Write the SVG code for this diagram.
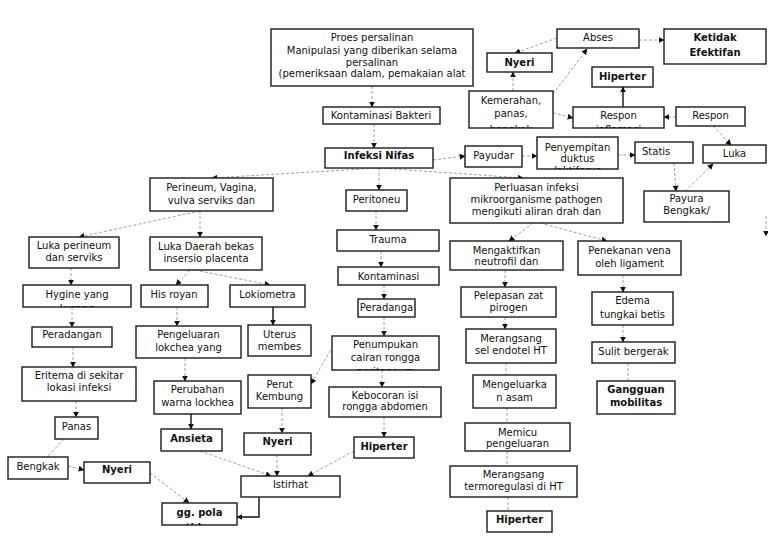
<svg xmlns="http://www.w3.org/2000/svg" width="768" height="543" viewBox="0 0 768 543">
<style>
.b{fill:#fff;stroke:#1a1a1a;stroke-width:1.4}
text{font-family:"DejaVu Sans","Liberation Sans",sans-serif;font-size:10px;fill:#111;text-anchor:middle}
.bd{font-weight:bold}
.d{fill:none;stroke:#a0a0a0;stroke-width:1;stroke-dasharray:3 2}
.d.a{marker-end:url(#ah)}
.s{fill:none;stroke:#111;stroke-width:1.4;marker-end:url(#ah)}
</style>
<defs>
<marker id="ah" viewBox="0 0 10 10" refX="9" refY="5" markerWidth="6" markerHeight="6" markerUnits="userSpaceOnUse" orient="auto"><path d="M0,0L10,5L0,10z" fill="#111"/></marker>
<clipPath id="c-hyg"><rect x="23" y="285" width="108" height="22"/></clipPath>
<clipPath id="c-gg"><rect x="162" y="503" width="75" height="22"/></clipPath>
<clipPath id="c-pen"><rect x="332" y="336" width="107" height="34"/></clipPath>
<clipPath id="c-kem"><rect x="469" y="91" width="84" height="37"/></clipPath>
<clipPath id="c-res"><rect x="573" y="107" width="91" height="21"/></clipPath>
<clipPath id="c-pny"><rect x="537" y="137" width="81" height="32"/></clipPath>
</defs>
<rect width="768" height="543" fill="#fff"/>
<g id="connectors">
<line class="d a" x1="372" y1="86" x2="372" y2="107"/>
<line class="d a" x1="374" y1="124" x2="374" y2="148"/>
<line class="d a" x1="433" y1="160" x2="465" y2="156"/>
<line class="d a" x1="379" y1="168" x2="212" y2="178"/>
<line class="d a" x1="379" y1="168" x2="379" y2="190"/>
<line class="d a" x1="379" y1="168" x2="523" y2="178"/>
<line class="d a" x1="522" y1="156" x2="537" y2="156"/>
<line class="d a" x1="618" y1="155" x2="635" y2="155"/>
<line class="d a" x1="674" y1="163" x2="676" y2="191"/>
<line class="d a" x1="685" y1="191" x2="713" y2="164"/>
<line class="d a" x1="676" y1="117" x2="664" y2="117"/>
<line class="d a" x1="713" y1="126" x2="731" y2="145"/>
<line class="s" x1="623" y1="107" x2="623" y2="87"/>
<line class="d a" x1="553" y1="113" x2="573" y2="118"/>
<line class="d a" x1="553" y1="94" x2="587" y2="49"/>
<line class="d a" x1="513" y1="91" x2="513" y2="72"/>
<line class="d a" x1="557" y1="38" x2="515" y2="53"/>
<line class="d a" x1="639" y1="40" x2="664" y2="40"/>
<line class="d a" x1="200" y1="211" x2="79" y2="237"/>
<line class="d a" x1="200" y1="211" x2="200" y2="237"/>
<line class="d a" x1="71" y1="268" x2="71" y2="285"/>
<line class="d a" x1="190" y1="270" x2="176" y2="285"/>
<line class="d a" x1="195" y1="270" x2="270" y2="285"/>
<line class="d a" x1="72" y1="307" x2="72" y2="327"/>
<line class="d a" x1="177" y1="307" x2="177" y2="326"/>
<line class="s" x1="273" y1="307" x2="273" y2="325"/>
<line class="d a" x1="73" y1="347" x2="73" y2="367"/>
<line class="d a" x1="185" y1="358" x2="185" y2="381"/>
<line class="d a" x1="76" y1="401" x2="76" y2="417"/>
<line class="d" x1="64" y1="439" x2="47" y2="457"/>
<line class="d a" x1="68" y1="466" x2="84" y2="470"/>
<line class="d a" x1="150" y1="473" x2="189" y2="503"/>
<line class="s" x1="191" y1="414" x2="191" y2="429"/>
<line class="d a" x1="200" y1="451" x2="271" y2="476"/>
<polyline class="s" points="259,497 259,517 237,517"/>
<line class="d a" x1="376" y1="211" x2="376" y2="230"/>
<line class="d a" x1="381" y1="251" x2="381" y2="267"/>
<line class="d a" x1="384" y1="285" x2="384" y2="299"/>
<line class="d a" x1="384" y1="317" x2="384" y2="336"/>
<line class="d a" x1="333" y1="346" x2="311" y2="384"/>
<line class="d a" x1="382" y1="370" x2="382" y2="387"/>
<line class="d a" x1="282" y1="408" x2="282" y2="433"/>
<line class="d a" x1="277" y1="455" x2="277" y2="476"/>
<line class="d a" x1="384" y1="417" x2="384" y2="437"/>
<line class="d a" x1="354" y1="451" x2="308" y2="476"/>
<line class="d a" x1="533" y1="223" x2="509" y2="241"/>
<line class="d a" x1="540" y1="223" x2="607" y2="241"/>
<line class="d a" x1="505" y1="270" x2="505" y2="287"/>
<line class="d a" x1="623" y1="275" x2="623" y2="292"/>
<line class="d a" x1="505" y1="317" x2="505" y2="329"/>
<line class="d a" x1="623" y1="325" x2="623" y2="342"/>
<line class="d" x1="506" y1="363" x2="506" y2="375"/>
<line class="d" x1="628" y1="363" x2="628" y2="381"/>
<line class="d" x1="507" y1="408" x2="507" y2="423"/>
<line class="d" x1="507" y1="451" x2="507" y2="466"/>
<line class="d" x1="508" y1="497" x2="508" y2="511"/>
<line class="d a" x1="766" y1="216" x2="766" y2="236"/>
</g>
<g id="n-proes"><rect class="b" x="271" y="29" width="202" height="57"/><text x="372" y="41">Proes persalinan</text><text x="372" y="54">Manipulasi yang diberikan selama</text><text x="372" y="66">persalinan</text><text x="372" y="77">(pemeriksaan dalam, pemakaian alat</text></g>
<g id="n-kontam-bakteri"><rect class="b" x="323" y="107" width="117" height="17"/><text x="381" y="119">Kontaminasi Bakteri</text></g>
<g id="n-infeksi"><rect class="b" x="325" y="148" width="108" height="20"/><text class="bd" x="379" y="159">Infeksi Nifas</text></g>
<g id="n-perineum"><rect class="b" x="150" y="178" width="123" height="33"/><text x="211.5" y="190.5">Perineum, Vagina,</text><text x="211.5" y="203.5">vulva serviks dan</text></g>
<g id="n-luka-perineum"><rect class="b" x="29" y="237" width="90" height="31"/><text x="74" y="248.5">Luka perineum</text><text x="74" y="260.5">dan serviks</text></g>
<g id="n-luka-daerah"><rect class="b" x="150" y="237" width="112" height="33"/><text x="206" y="249.5">Luka Daerah bekas</text><text x="206" y="261.5">insersio placenta</text></g>
<g id="n-hygine"><rect class="b" x="23" y="285" width="108" height="22"/><g clip-path="url(#c-hyg)"><text x="77" y="297.5">Hygine yang</text><text x="77" y="312">kurang</text></g></g>
<g id="n-his"><rect class="b" x="141" y="285" width="67" height="22"/><text x="174" y="297.5">His royan</text></g>
<g id="n-lokio"><rect class="b" x="230" y="285" width="75" height="22"/><text x="267.5" y="297.5">Lokiometra</text></g>
<g id="n-peradangan"><rect class="b" x="32" y="327" width="80" height="20"/><text x="72" y="337.5">Peradangan</text></g>
<g id="n-pengeluaran"><rect class="b" x="136" y="326" width="105" height="32"/><text x="188.5" y="337.5">Pengeluaran</text><text x="188.5" y="350.5">lokchea yang</text></g>
<g id="n-uterus"><rect class="b" x="248" y="325" width="63" height="31"/><text x="279.5" y="337.5">Uterus</text><text x="279.5" y="349.5">membes</text></g>
<g id="n-eritema"><rect class="b" x="22" y="367" width="114" height="34"/><text x="79" y="378.5">Eritema di sekitar</text><text x="79" y="390.5">lokasi infeksi</text></g>
<g id="n-panas"><rect class="b" x="55" y="417" width="43" height="22"/><text x="76.5" y="429.5">Panas</text></g>
<g id="n-bengkak"><rect class="b" x="8" y="457" width="60" height="22"/><text x="38" y="469.5">Bengkak</text></g>
<g id="n-nyeri-left"><rect class="b" x="84" y="462" width="66" height="21"/><text class="bd" x="117" y="472.5">Nyeri</text></g>
<g id="n-ggpola"><rect class="b" x="162" y="503" width="75" height="22"/><g clip-path="url(#c-gg)"><text class="bd" x="199.5" y="515.5">gg. pola</text><text class="bd" x="199.5" y="530.5">tidur</text></g></g>
<g id="n-istirhat"><rect class="b" x="241" y="476" width="99" height="21"/><text x="290.5" y="487.5">Istirhat</text></g>
<g id="n-perubahan"><rect class="b" x="154" y="381" width="87" height="33"/><text x="197.5" y="392.5">Perubahan</text><text x="197.5" y="405.5">warna lockhea</text></g>
<g id="n-ansieta"><rect class="b" x="161" y="429" width="61" height="22"/><text class="bd" x="191.5" y="441.5">Ansieta</text></g>
<g id="n-perut"><rect class="b" x="248" y="375" width="63" height="33"/><text x="279.5" y="387.5">Perut</text><text x="279.5" y="399.5">Kembung</text></g>
<g id="n-nyeri-mid"><rect class="b" x="244" y="433" width="67" height="22"/><text class="bd" x="277.5" y="444.5">Nyeri</text></g>
<g id="n-hiperter-mid"><rect class="b" x="354" y="437" width="60" height="21"/><text class="bd" x="384" y="449.5">Hiperter</text></g>
<g id="n-kebocoran"><rect class="b" x="329" y="387" width="112" height="30"/><text x="385" y="398.5">Kebocoran isi</text><text x="385" y="409.5">rongga abdomen</text></g>
<g id="n-peritoneu"><rect class="b" x="346" y="190" width="61" height="21"/><text x="376.5" y="202.5">Peritoneu</text></g>
<g id="n-trauma"><rect class="b" x="337" y="230" width="102" height="21"/><text x="388" y="242.5">Trauma</text></g>
<g id="n-kontaminasi"><rect class="b" x="338" y="267" width="101" height="18"/><text x="388.5" y="279.5">Kontaminasi</text></g>
<g id="n-peradanga"><rect class="b" x="358" y="299" width="57" height="18"/><text x="386.5" y="310.5">Peradanga</text></g>
<g id="n-penumpukan"><rect class="b" x="332" y="336" width="107" height="34"/><g clip-path="url(#c-pen)"><text x="385.5" y="347.5">Penumpukan</text><text x="385.5" y="360.5">cairan rongga</text><text x="385.5" y="374.5">peritoneum</text></g></g>
<g id="n-perluasan"><rect class="b" x="450" y="178" width="173" height="45"/><text x="536.5" y="190.5">Perluasan infeksi</text><text x="536.5" y="202.5">mikroorganisme pathogen</text><text x="536.5" y="214.5">mengikuti aliran drah dan</text></g>
<g id="n-payura"><rect class="b" x="644" y="191" width="85" height="31"/><text x="686.5" y="201.5">Payura</text><text x="686.5" y="213.5">Bengkak/</text></g>
<g id="n-mengaktifkan"><rect class="b" x="450" y="241" width="113" height="29"/><text x="506.5" y="253.5">Mengaktifkan</text><text x="506.5" y="264.5">neutrofil dan</text></g>
<g id="n-penekanan"><rect class="b" x="578" y="241" width="103" height="34"/><text x="629.5" y="253.5">Penekanan vena</text><text x="629.5" y="266.5">oleh ligament</text></g>
<g id="n-pelepasan"><rect class="b" x="461" y="287" width="95" height="30"/><text x="508.5" y="298.5">Pelepasan zat</text><text x="508.5" y="310.5">pirogen</text></g>
<g id="n-edema"><rect class="b" x="592" y="292" width="81" height="33"/><text x="632.5" y="303.5">Edema</text><text x="632.5" y="317.5">tungkai betis</text></g>
<g id="n-merangsang-sel"><rect class="b" x="466" y="329" width="90" height="34"/><text x="511" y="341.5">Merangsang</text><text x="511" y="353.5">sel endotel HT</text></g>
<g id="n-sulit"><rect class="b" x="592" y="342" width="83" height="21"/><text x="633.5" y="354.5">Sulit bergerak</text></g>
<g id="n-mengeluarkan"><rect class="b" x="473" y="375" width="83" height="33"/><text x="514.5" y="387.5">Mengeluarka</text><text x="514.5" y="400.5">n asam</text></g>
<g id="n-gangguan"><rect class="b" x="597" y="381" width="78" height="33"/><text class="bd" x="636" y="392.5">Gangguan</text><text class="bd" x="636" y="405.5">mobilitas</text></g>
<g id="n-memicu"><rect class="b" x="465" y="423" width="105" height="28"/><text x="517.5" y="435.5">Memicu</text><text x="517.5" y="446.5">pengeluaran</text></g>
<g id="n-merangsang-term"><rect class="b" x="450" y="466" width="127" height="31"/><text x="513.5" y="477.5">Merangsang</text><text x="513.5" y="489.5">termoregulasi di HT</text></g>
<g id="n-hiperter-bottom"><rect class="b" x="487" y="511" width="65" height="21"/><text class="bd" x="519.5" y="522.5">Hiperter</text></g>
<g id="n-abses"><rect class="b" x="557" y="29" width="82" height="19"/><text x="598" y="41">Abses</text></g>
<g id="n-ketidak"><rect class="b" x="664" y="29" width="102" height="35"/><text class="bd" x="715" y="40.5">Ketidak</text><text class="bd" x="715" y="55.5">Efektifan</text></g>
<g id="n-nyeri-top"><rect class="b" x="487" y="53" width="65" height="19"/><text class="bd" x="519.5" y="65.5">Nyeri</text></g>
<g id="n-kemerahan"><rect class="b" x="469" y="91" width="84" height="37"/><g clip-path="url(#c-kem)"><text x="511" y="103.5">Kemerahan,</text><text x="511" y="116.5">panas,</text><text x="511" y="133">bengkak</text></g></g>
<g id="n-hiperter-top"><rect class="b" x="592" y="67" width="61" height="20"/><text class="bd" x="622.5" y="79.5">Hiperter</text></g>
<g id="n-respon-infl"><rect class="b" x="573" y="107" width="91" height="21"/><g clip-path="url(#c-res)"><text x="618.5" y="118.5">Respon</text><text x="618.5" y="133">inflamasi</text></g></g>
<g id="n-respon"><rect class="b" x="676" y="107" width="69" height="19"/><text x="710.5" y="118.5">Respon</text></g>
<g id="n-luka"><rect class="b" x="703" y="145" width="63" height="18"/><text x="734.5" y="156.5">Luka</text></g>
<g id="n-payudar"><rect class="b" x="465" y="146" width="57" height="21"/><text x="493.5" y="158.5">Payudar</text></g>
<g id="n-penyempitan"><rect class="b" x="537" y="137" width="81" height="32"/><g clip-path="url(#c-pny)"><text x="577.5" y="150.5">Penyempitan</text><text x="577.5" y="161.5">duktus</text><text x="577.5" y="174">laktiferus</text></g></g>
<g id="n-statis"><rect class="b" x="635" y="142" width="58" height="21"/><text x="642" y="154.5" style="text-anchor:start">Statis</text></g>
</svg>
